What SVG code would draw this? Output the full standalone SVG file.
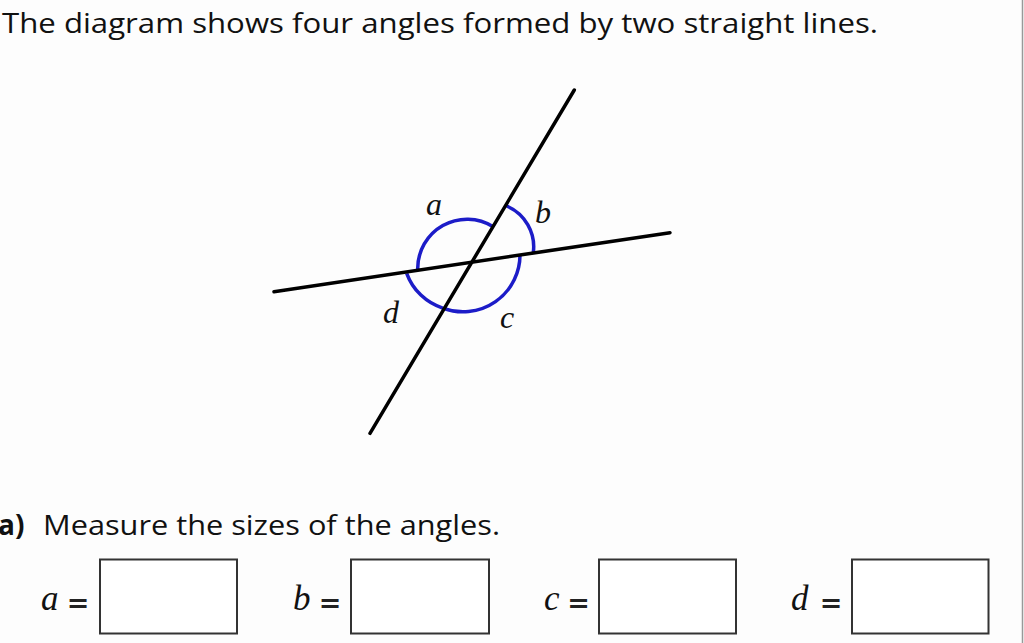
<svg xmlns="http://www.w3.org/2000/svg" width="1024" height="643" viewBox="0 0 1024 643">
<style>
.txt{font-family:"Open Sans","Noto Sans","Liberation Sans",sans-serif;font-size:28px;fill:#111}
.math{font-family:"Liberation Serif","DejaVu Serif",serif;font-style:italic;fill:#111}
.eq{font-family:"DejaVu Sans","Liberation Sans",sans-serif;font-weight:bold;font-size:27px;fill:#222}
.line{stroke:#000;stroke-width:3.5;stroke-linecap:round;fill:none}
.arc{stroke:#1c1cc8;stroke-width:3.5;fill:none}
.box{fill:#fff;stroke:#333;stroke-width:2}
</style>
<rect x="0" y="0" width="1024" height="643" fill="#fdfdfd"/>
<line x1="1022.5" y1="0" x2="1022.5" y2="643" stroke="#999" stroke-width="1.5"/>
<g id="title">
<text class="txt" x="2" y="33" textLength="876" lengthAdjust="spacingAndGlyphs">The diagram shows four angles formed by two straight lines.</text>
</g>
<g id="angle-arcs">
<path class="arc" d="M417.7 269.3 A49.4 49.4 0 0 1 493.3 226.7"/>
<path class="arc" d="M506.7 206 A44.4 44.4 0 0 1 533.3 252.7"/>
<path class="arc" d="M520 255 A57 57 0 0 1 443.3 308.3"/>
<path class="arc" d="M443.3 308.3 A57 57 0 0 1 406.7 273.3"/>
</g>
<g id="connectors">
<line class="line" x1="274" y1="291.7" x2="670" y2="232.7"/>
<line class="line" x1="574.3" y1="90" x2="370" y2="433.3"/>
</g>
<g id="angle-labels">
<text class="math" x="426" y="215" font-size="32">a</text>
<text class="math" x="535" y="223" font-size="32">b</text>
<text class="math" x="383" y="323" font-size="32">d</text>
<text class="math" x="500" y="328" font-size="32">c</text>
</g>
<g id="question">
<text class="txt" x="-2" y="535" font-weight="bold" font-size="28">a)</text>
<text class="txt" x="43" y="535" textLength="457" lengthAdjust="spacingAndGlyphs">Measure the sizes of the angles.</text>
</g>
<g id="answer-a">
<text class="math" x="41" y="610" font-size="35">a</text>
<text class="eq" x="78" y="612" text-anchor="middle">=</text>
<rect class="box" x="100" y="559.5" width="137" height="74"/>
</g>
<g id="answer-b">
<text class="math" x="293" y="610" font-size="35">b</text>
<text class="eq" x="330" y="612" text-anchor="middle">=</text>
<rect class="box" x="351" y="559.5" width="138" height="74"/>
</g>
<g id="answer-c">
<text class="math" x="544" y="610" font-size="35">c</text>
<text class="eq" x="578.5" y="612" text-anchor="middle">=</text>
<rect class="box" x="599" y="559.5" width="137" height="74"/>
</g>
<g id="answer-d">
<text class="math" x="791" y="610" font-size="35">d</text>
<text class="eq" x="831" y="612" text-anchor="middle">=</text>
<rect class="box" x="852" y="559.5" width="136.5" height="74"/>
</g>
</svg>
